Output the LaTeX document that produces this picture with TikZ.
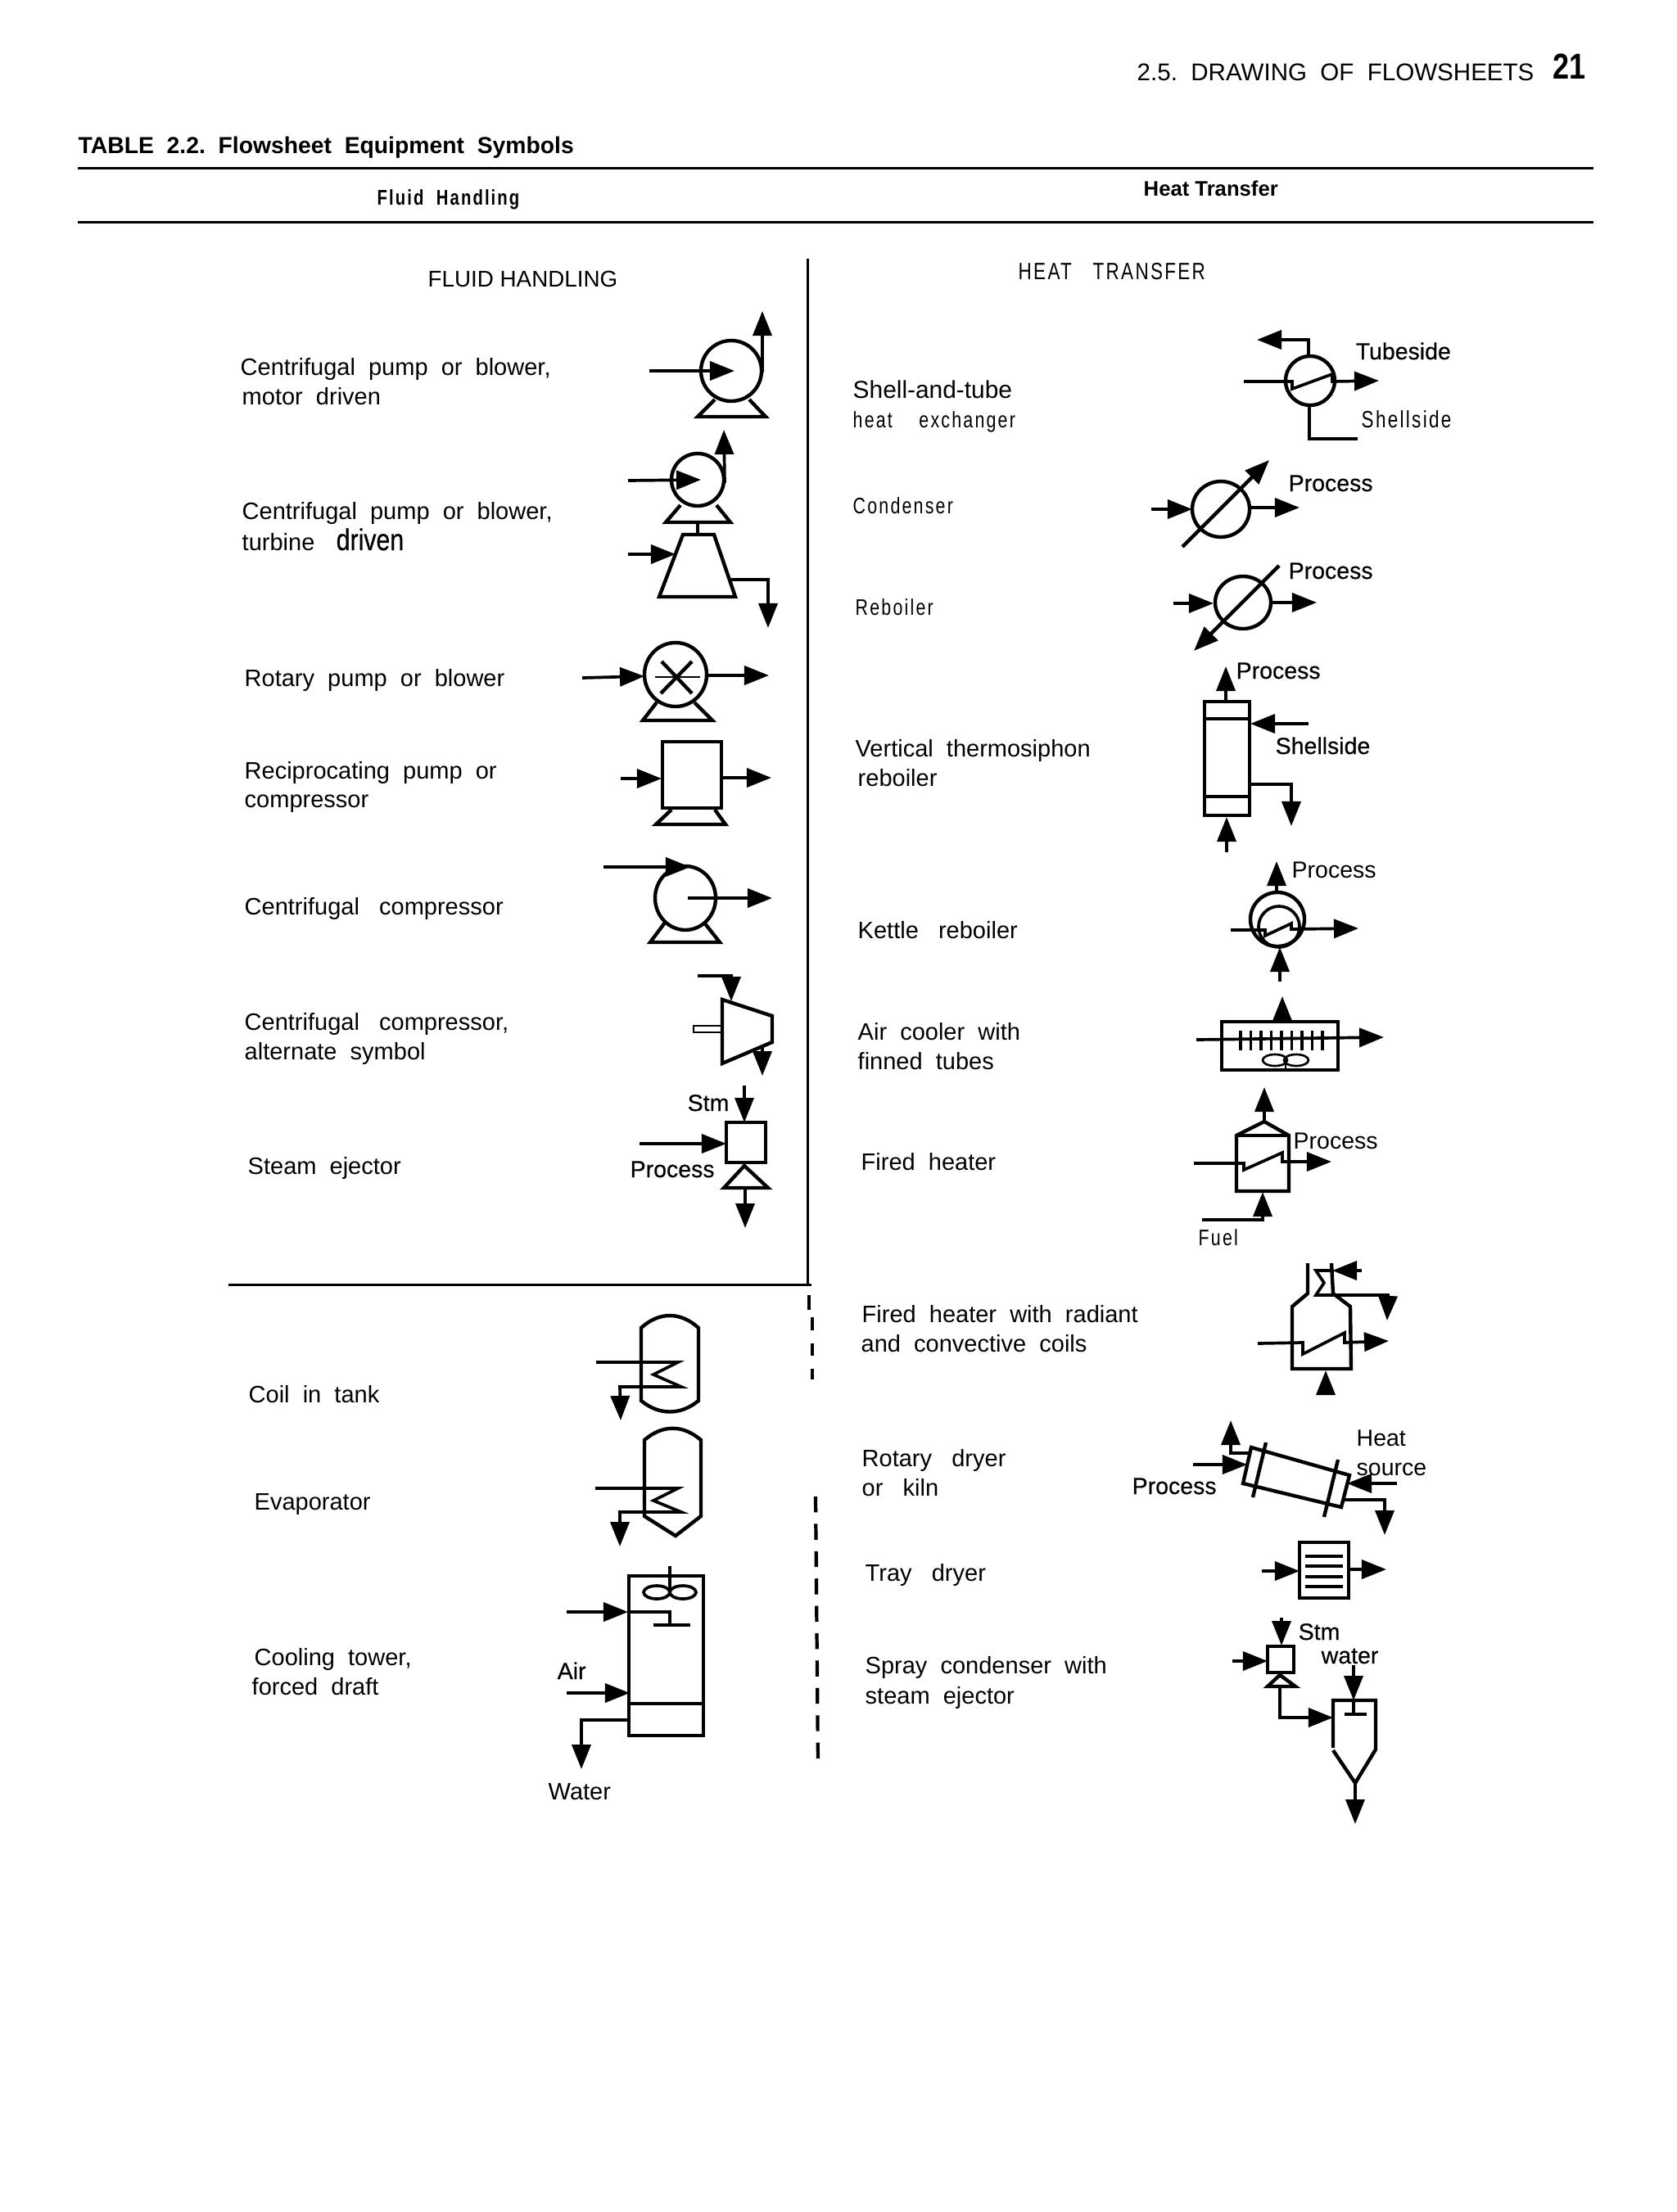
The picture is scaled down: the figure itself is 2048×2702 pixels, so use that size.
\documentclass[tikz,border=0pt]{standalone}
\usepackage{fontspec}
\setmainfont{Liberation Sans}
\newfontfamily\narrowfont[FakeStretch=0.78,LetterSpace=8]{Liberation Sans}
\newfontfamily\squeezefont[FakeStretch=0.82]{Liberation Sans}
\newfontfamily\squeezeheavy[FakeStretch=0.82,FakeBold=0.5]{Liberation Sans}
\newfontfamily\heavyfont[FakeBold=0.4]{Liberation Sans}
\usetikzlibrary{arrows.meta}

\begin{document}
\begin{tikzpicture}[
    x=0.01cm,y=-0.01cm,
    >={Triangle[length=0.3cm,width=0.23cm]},
    lbl/.style={anchor=base west,inner sep=0pt,font=\fontsize{8.25}{10}\selectfont},
    head/.style={lbl,font=\bfseries\fontsize{8.05}{10}\selectfont},
    thin lbl/.style={lbl,font=\narrowfont\fontsize{7.8}{10}\selectfont},
    sym/.style={lbl,font=\fontsize{8.1}{10}\selectfont},
    heavy sym/.style={lbl,font=\heavyfont\fontsize{8.1}{10}\selectfont},
    unit/.style={line width=1.25pt,line join=miter},
    pipe/.style={line width=1.05pt,->},
    line/.style={line width=1.05pt},
    fine/.style={line width=0.75pt},
    rule/.style={line width=0.85pt}
    ]
    \fill[white] (0,0) rectangle (2048,2702);
    \useasboundingbox (0,0) rectangle (2048,2702);
    % page head
    \node[lbl,font=\fontsize{8.4}{10}\selectfont] (pagehead) at (1388,98) {2.5.~~DRAWING~~OF~~FLOWSHEETS};
    \node[lbl,font=\squeezefont\bfseries\fontsize{12.5}{14}\selectfont] (pageno) at (1896,96) {21};
    \node[head] (tabletitle) at (95,187) {TABLE~~2.2.~~Flowsheet~~Equipment~~Symbols};
    \draw[rule] (95,205) -- (1946,205);
    \draw[rule] (95,271) -- (1946,271);
    \node[thin lbl,font=\narrowfont\bfseries\fontsize{7.4}{9}\selectfont] (fluidhead) at (460,250) {Fluid~~Handling};
    \node[head,font=\bfseries\fontsize{7.3}{9}\selectfont] (heathead) at (1396,239) {Heat Transfer};
    \node[lbl,font=\fontsize{7.9}{10}\selectfont] (fluidtitle) at (522,350) {FLUID HANDLING};
    \node[thin lbl,font=\narrowfont\fontsize{8.2}{10}\selectfont] (heattitle) at (1243,341) {HEAT~~~TRANSFER};
    % dividers
    \draw[rule] (986,316) -- (986,1569);
    \draw[rule] (279,1569) -- (991,1569);
    \draw[line width=1.2pt] (988,1582) -- (988,1600);
    \draw[line width=1.2pt,dash pattern=on 4.5pt off 4.5pt] (992,1609) -- (992,1685);
    \draw[line width=1.2pt,dash pattern=on 5.5pt off 4pt] (996,1828) -- (999,2155);

    % fluid handling, text
    \node[lbl] (pumpa) at (293,458) {Centrifugal~~pump~~or~~blower,};
    \node[lbl] (pumpb) at (295,494) {motor~~driven};
    \node[lbl] (turba) at (295,634) {Centrifugal~~pump~~or~~blower,};
    \node[lbl] (turbb) at (295,672) {turbine};
    \node[lbl,font=\squeezeheavy\fontsize{10.5}{12}\selectfont] (turbc) at (410,672) {driven};
    \node[lbl] (rota) at (298,838) {Rotary~~pump~~or~~blower};
    \node[lbl] (reca) at (298,951) {Reciprocating~~pump~~or};
    \node[lbl] (recb) at (298,986) {compressor};
    \node[lbl] (coma) at (298,1117) {Centrifugal~~~compressor};
    \node[lbl] (alta) at (298,1258) {Centrifugal~~~compressor,};
    \node[lbl] (altb) at (298,1294) {alternate~~symbol};
    \node[lbl] (ejea) at (302,1434) {Steam~~ejector};
    \node[lbl] (coila) at (303,1713) {Coil~~in~~tank};
    \node[lbl] (evaa) at (310,1844) {Evaporator};
    \node[lbl] (towa) at (310,2034) {Cooling~~tower,};
    \node[lbl] (towb) at (307,2070) {forced~~draft};
    \node[heavy sym] (ejestm) at (839,1357) {Stm};
    \node[heavy sym] (ejeproc) at (769,1438) {Process};
    \node[heavy sym] (towair) at (680,2051) {Air};
    \node[lbl] (towwater) at (669,2198) {Water};

    % centrifugal pump
    \draw[unit] (893,453) circle (37);
    \draw[pipe] (793,453) -- (897,453);
    \draw[pipe] (931,455) -- (931,380);
    \draw[unit] (873,488) -- (852,509) -- (935,509) -- (915,488);
    % pump with turbine
    \draw[unit] (852,586) circle (32);
    \draw[pipe] (767,587) -- (856,586);
    \draw[pipe] (885,590) -- (884,525);
    \draw[unit] (831,617) -- (813,638) -- (892,638) -- (875,617);
    \draw[line] (852,638) -- (852,653);
    \draw[unit] (834,653) -- (872,653) -- (898,729) -- (805,729) -- cycle;
    \draw[pipe] (767,677) -- (825,677);
    \draw[line,->] (893,708) -- (938,708) -- (938,767);
    % rotary pump
    \draw[unit] (825,824) ellipse (38 and 39);
    \draw[pipe] (711,828) -- (787,826);
    \draw[pipe] (863,825) -- (939,825);
    \draw[unit] (808,808) -- (845,847);
    \draw[unit] (845,808) -- (807,847);
    \draw[fine] (800,827) -- (855,827);
    \draw[unit] (802,858) -- (785,880) -- (870,880) -- (848,858);
    % reciprocating
    \draw[unit] (809,906) rectangle (881,987);
    \draw[pipe] (758,951) -- (808,951);
    \draw[pipe] (882,950) -- (942,950);
    \draw[unit] (820,989) -- (801,1007) -- (886,1007) -- (873,989);
    % compressor
    \draw[unit] (837,1097) ellipse (37 and 39);
    \draw[pipe] (737,1059) -- (843,1059);
    \draw[pipe] (840,1097) -- (943,1097);
    \draw[unit] (812,1127) -- (794,1151) -- (879,1151) -- (860,1127);
    % alternate symbol
    \draw[unit] (882,1221) -- (943,1241) -- (943,1273) -- (882,1299) -- cycle;
    \draw[fine] (882,1253) -- (847,1253) -- (847,1261) -- (882,1261);
    \draw[line,->] (852,1192) -- (893,1192) -- (893,1223);
    \draw[pipe] (931,1278) -- (931,1314);
    % steam ejector
    \draw[unit] (887,1371) rectangle (935,1420);
    \draw[pipe] (909,1326) -- (909,1371);
    \draw[pipe] (781,1397) -- (887,1397);
    \draw[unit] (909,1424) -- (884,1451) -- (938,1451) -- cycle;
    \draw[pipe] (910,1451) -- (910,1500);
    % coil in tank
    \draw[unit] (783,1622) .. controls (805,1602) and (831,1602) .. (853,1622) -- (853,1711) .. controls (831,1729) and (805,1729) .. (783,1711) -- cycle;
    \draw[line,->] (728,1664) -- (828,1664) -- (798,1679) -- (832,1694) -- (757,1694) -- (758,1735);
    % evaporator
    \draw[unit] (787,1759) .. controls (809,1740) and (834,1740) .. (856,1759) -- (856,1852) -- (825,1876) -- (787,1852) -- cycle;
    \draw[line,->] (727,1818) -- (828,1818) -- (798,1833) -- (832,1847) -- (757,1847) -- (757,1889);
    % cooling tower
    \draw[unit] (768,1925) rectangle (859,2120);
    \draw[line] (768,2081) -- (859,2081);
    \draw[line] (818,1913) -- (818,1945);
    \draw[line] (802,1945) ellipse (16 and 8);
    \draw[line] (834,1945) ellipse (16 and 8);
    \draw[pipe] (692,1969) -- (767,1969);
    \draw[line] (767,1969) -- (818,1969) -- (818,1985);
    \draw[line] (798,1985) -- (843,1985);
    \draw[pipe] (692,2068) -- (769,2068);
    \draw[line,->] (768,2101) -- (710,2101) -- (710,2161);

    % heat transfer, text
    \node[lbl,font=\fontsize{8.5}{10}\selectfont] (shella) at (1041,486) {Shell-and-tube};
    \node[thin lbl] (shellb) at (1041,522) {heat~~~~exchanger};
    \node[thin lbl] (conda) at (1041,627) {Condenser};
    \node[thin lbl] (reba) at (1044,751) {Reboiler};
    \node[lbl] (vera) at (1044,924) {Vertical~~thermosiphon};
    \node[lbl] (verb) at (1047,960) {reboiler};
    \node[lbl] (keta) at (1047,1146) {Kettle~~~reboiler};
    \node[lbl] (aira) at (1047,1270) {Air~~cooler~~with};
    \node[lbl] (airb) at (1047,1306) {finned~~tubes};
    \node[lbl] (fira) at (1051,1429) {Fired~~heater};
    \node[lbl] (rada) at (1052,1615) {Fired~~heater~~with~~radiant};
    \node[lbl] (radb) at (1051,1651) {and~~convective~~coils};
    \node[lbl] (drya) at (1052,1791) {Rotary~~~dryer};
    \node[lbl] (dryb) at (1052,1827) {or~~~kiln};
    \node[lbl] (traya) at (1056,1931) {Tray~~~dryer};
    \node[lbl] (spra) at (1056,2044) {Spray~~condenser~~with};
    \node[lbl] (sprb) at (1056,2081) {steam~~ejector};
    \node[heavy sym] (shelltube) at (1655,439) {Tubeside};
    \node[thin lbl,font=\narrowfont\fontsize{8.2}{10}\selectfont] (shellside) at (1662,522) {Shellside};
    \node[heavy sym] (condproc) at (1573,600) {Process};
    \node[heavy sym] (rebproc) at (1573,707) {Process};
    \node[heavy sym] (verproc) at (1509,829) {Process};
    \node[heavy sym] (vershell) at (1557,921) {Shellside};
    \node[sym] (ketproc) at (1577,1072) {Process};
    \node[sym] (firproc) at (1579,1403) {Process};
    \node[thin lbl] (firfuel) at (1463,1521) {Fuel};
    \node[heavy sym] (dryproc) at (1382,1825) {Process};
    \node[sym] (dryheat) at (1656,1766) {Heat};
    \node[sym] (drysource) at (1656,1802) {source};
    \node[heavy sym] (sprstm) at (1585,2003) {Stm};
    \node[heavy sym] (sprwater) at (1613,2032) {water};

    % shell and tube
    \draw[unit] (1600,465) circle (30);
    \draw[line,->] (1519,466) -- (1578,466) -- (1578,475) -- (1627,457) -- (1627,466) -- (1684,465);
    \draw[line,->] (1598,434) -- (1598,415) -- (1535,415);
    \draw[unit] (1599,495) -- (1599,536) -- (1658,536);
    % condenser
    \draw[unit] (1491,622) ellipse (35 and 34);
    \draw[pipe] (1406,622) -- (1456,622);
    \draw[pipe] (1527,620) -- (1587,620);
    \draw[unit,->] (1444,668) -- (1550,562);
    % reboiler
    \draw[unit] (1518,736) ellipse (34 and 32);
    \draw[pipe] (1433,737) -- (1482,737);
    \draw[pipe] (1552,736) -- (1608,736);
    \draw[unit,->] (1562,691) -- (1458,795);
    % thermosiphon
    \draw[unit] (1471,857) rectangle (1526,996);
    \draw[line] (1471,878) -- (1526,878);
    \draw[line] (1471,973) -- (1526,973);
    \draw[pipe] (1497,857) -- (1497,814);
    \draw[pipe] (1498,1041) -- (1498,998);
    \draw[pipe] (1598,884) -- (1527,884);
    \draw[line,->] (1527,958) -- (1577,958) -- (1577,1009);
    % kettle
    \draw[unit] (1560,1123) circle (33);
    \draw[line] (1562,1132) circle (25);
    \draw[line,->] (1503,1136) -- (1545,1136) -- (1545,1143) -- (1577,1128) -- (1577,1135) -- (1659,1134);
    \draw[pipe] (1559,1088) -- (1559,1052);
    \draw[pipe] (1563,1199) -- (1563,1157);
    % air cooler
    \draw[unit] (1492,1248) rectangle (1634,1307);
    \draw[pipe] (1461,1270) -- (1690,1267);
    \foreach \x in {1515,1527.5,...,1616}
      \draw[line] (\x,1259) -- (\x,1283);
    \draw[pipe] (1566,1248) -- (1566,1217);
    \draw[fine] (1557,1295) ellipse (15 and 7);
    \draw[fine] (1583,1295) ellipse (15 and 7);
    \draw[fine] (1570,1295) -- (1570,1307);
    % fired heater
    \draw[unit] (1510,1387) -- (1544,1370) -- (1574,1387) -- (1574,1455) -- (1510,1455) -- cycle;
    \draw[line] (1510,1387) -- (1574,1387);
    \draw[pipe] (1544,1370) -- (1544,1328);
    \draw[line,->] (1458,1421) -- (1519,1421) -- (1519,1429) -- (1566,1408) -- (1566,1419) -- (1626,1419);
    \draw[line,->] (1468,1490) -- (1542,1490) -- (1542,1456);
    % radiant and convective
    \draw[unit] (1597,1543) -- (1597,1580) -- (1578,1596) -- (1578,1672) -- (1650,1672) -- (1649,1596) -- (1628,1580) -- (1626,1543);
    \draw[pipe] (1663,1552) -- (1627,1552);
    \draw[line,->] (1627,1552) -- (1607,1552) -- (1617,1567) -- (1607,1582) -- (1695,1582) -- (1694,1613);
    \draw[line,->] (1536,1641) -- (1591,1640) -- (1591,1654) -- (1642,1628) -- (1642,1640) -- (1696,1638);
    \draw[pipe] (1619,1698) -- (1619,1674);
    % rotary dryer
    \draw[unit] (1528,1768) -- (1648,1802) -- (1638,1841) -- (1518,1812) -- cycle;
    \draw[unit] (1546,1762) -- (1530,1829);
    \draw[unit] (1634,1783) -- (1617,1853);
    \draw[line,->] (1527,1775) -- (1503,1775) -- (1503,1735);
    \draw[pipe] (1457,1789) -- (1523,1789);
    \draw[pipe] (1706,1812) -- (1645,1812);
    \draw[line,->] (1640,1832) -- (1691,1832) -- (1691,1875);
    % tray dryer
    \draw[unit] (1587,1884) rectangle (1647,1952);
    \foreach \y in {1901,1913,1926,1938}
      \draw[line] (1594,\y) -- (1640,\y);
    \draw[pipe] (1541,1919) -- (1587,1919);
    \draw[pipe] (1648,1917) -- (1693,1917);
    % spray condenser
    \draw[unit] (1548,2011) rectangle (1580,2043);
    \draw[pipe] (1565,1976) -- (1565,2010);
    \draw[pipe] (1505,2029) -- (1548,2029);
    \draw[unit] (1563,2046) -- (1548,2060) -- (1582,2060) -- cycle;
    \draw[line,->] (1563,2060) -- (1563,2098) -- (1628,2098);
    \draw[unit] (1628,2135) -- (1628,2077) -- (1680,2077) -- (1680,2137) -- (1655,2178) -- (1628,2138);
    \draw[pipe] (1653,2034) -- (1653,2077);
    \draw[line] (1653,2077) -- (1653,2094);
    \draw[line] (1642,2094) -- (1669,2094);
    \draw[pipe] (1655,2178) -- (1655,2228);
  \end{tikzpicture}
\end{document}
